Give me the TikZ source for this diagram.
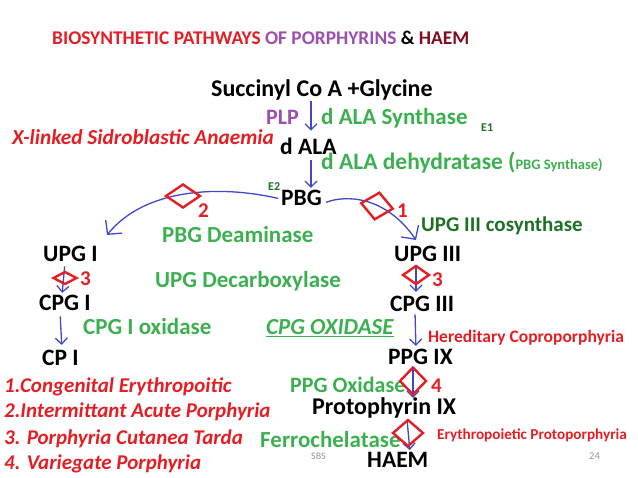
\documentclass[tikz,border=0pt]{standalone}
\usepackage{fontspec}
\setmainfont{Carlito}
\usetikzlibrary{arrows.meta,shapes.geometric}
\definecolor{cred}{RGB}{227,30,36}
\definecolor{cpurple}{RGB}{155,80,176}
\definecolor{cmaroon}{RGB}{128,12,30}
\definecolor{cgreen}{RGB}{60,176,80}
\definecolor{cdgreen}{RGB}{30,112,36}
\definecolor{cblue}{RGB}{64,72,204}
\definecolor{cgray}{RGB}{150,150,150}
\newcommand{\fsz}[1]{\fontsize{#1}{#1}\selectfont}
\begin{document}
\begin{tikzpicture}[x=1pt,y=-1pt,
  txt/.style={inner sep=0pt,anchor=base west,font=\bfseries\fsz{23.5}},
  blk/.style={txt,text=black},
  grn/.style={txt,text=cgreen},
  dgrn/.style={txt,text=cdgreen},
  rd/.style={txt,text=cred,font=\bfseries\fsz{21}},
  rdit/.style={txt,text=cred,font=\bfseries\itshape\fsz{21}},
  small/.style={inner sep=0pt,anchor=base west,font=\bfseries\fsz{12}},
  arr/.style={draw=cblue,line width=1.3pt,-{Straight Barb[length=6pt,width=12pt,line width=1.3pt]}},
  carr/.style={draw=cblue,line width=1.3pt,-{Straight Barb[length=10pt,width=21pt,line width=1.3pt]}},
  dia/.style={diamond,draw=cred,line width=2.4pt,inner sep=0pt}]
\useasboundingbox (0,0) rectangle (638,478);
% title
\node[txt,font=\bfseries\fsz{19.4}] (title) at (52,45)
  {\textcolor{cred}{BIOSYNTHETIC PATHWAYS} \textcolor{cpurple}{OF PORPHYRINS} \textcolor{black}{\&} \textcolor{cmaroon}{HAEM}};
% main column
\node[blk,font=\bfseries\fsz{24}] (succ) at (211,97) {Succinyl Co A +Glycine};
\node[txt,text=cpurple,font=\bfseries\fsz{22}] (plp) at (266,125) {PLP};
\node[grn,font=\bfseries\fsz{23}] (alas) at (321,125) {d ALA Synthase};
\node[small,text=cdgreen] (e1) at (481,132) {E1};
\node[rdit,font=\bfseries\itshape\fsz{21.3}] (xlink) at (12,145) {X-linked Sidroblastic Anaemia};
\node[blk] (dala) at (280,155) {d ALA};
\node[grn] (alad) at (321,170) {d ALA dehydratase (\fsz{14.5}PBG Synthase)};
\node[small,text=cdgreen] (e2) at (268,191) {E2};
\node[blk] (pbg) at (281,206) {PBG};
\node[rd] (n2) at (198,218) {2};
\node[grn,font=\bfseries\fsz{23}] (pbgd) at (162,243) {PBG Deaminase};
\node[rd] (n1) at (397,218) {1};
\node[dgrn,font=\bfseries\fsz{21}] (upgco) at (421,232) {UPG III cosynthase};
\node[blk] (upg1) at (43,262) {UPG I};
\node[blk] (upg3) at (394,262) {UPG III};
\node[grn,font=\bfseries\fsz{23}] (upgd) at (155,288) {UPG Decarboxylase};
\node[rd] (n3l) at (80,286) {3};
\node[rd] (n3r) at (432,287) {3};
\node[blk] (cpg1) at (39,311) {CPG I};
\node[blk] (cpg3) at (390,312) {CPG III};
\node[grn,font=\bfseries\fsz{23}] (cpg1ox) at (83,335) {CPG I oxidase};
\node[grn,font=\bfseries\itshape\fsz{23}] (cpgox) at (266,335) {\underline{CPG OXIDASE}};
\node[txt,text=cred,font=\bfseries\fsz{17.5}] (hcp) at (428,343) {Hereditary Coproporphyria};
\node[blk] (cp1) at (42,366) {CP I};
\node[blk] (ppg9) at (388,365) {PPG IX};
\node[grn,font=\bfseries\fsz{22}] (ppgox) at (290,393) {PPG Oxidase};
\node[rd] (n4) at (431,393) {4};
\node[blk,font=\bfseries\fsz{24}] (proto) at (312,415) {Protophyrin IX};
\node[txt,text=cred,font=\bfseries\fsz{15.2}] (epp) at (437,440) {Erythropoietic Protoporphyria};
\node[grn,font=\bfseries\fsz{23}] (ferro) at (260,448) {Ferrochelatase};
\node[blk] (haem) at (367,468) {HAEM};
\node[inner sep=0pt,anchor=base west,text=cgray,font=\fsz{10}] (sbs) at (311,460) {SBS};
\node[inner sep=0pt,anchor=base west,text=cgray,font=\fsz{10.5}] (pg) at (589,460) {24};
% disease list
\node[rdit] (l1) at (4,393) {1.Congenital Erythropoitic};
\node[rdit] (l2) at (4,418) {2.Intermittant Acute Porphyria};
\node[rdit] (l3) at (4,445) {3. Porphyria Cutanea Tarda};
\node[rdit] (l4) at (4,470) {4. Variegate Porphyria};
% connectors
\coordinate (upg1end) at (107,235);
\coordinate (upg3end) at (416,240);
\draw[arr,shorten >=7.6pt] (succ.south -| 311,0) -- (dala.north -| 311,0);
\draw[arr,shorten <=5pt,shorten >=2.5pt] (dala.south -| 311,0) -- (pbg.north -| 311,0);
\draw[carr] ([xshift=-3pt]pbg.west) .. controls (220,185) and (145,188) .. (upg1end);
\draw[carr] ([xshift=4pt,yshift=4pt]pbg.south east) .. controls (345,195) and (385,195) .. (upg3end);
\draw[arr,shorten <=4pt,shorten >=2.5pt] (upg1.south -| 65,0) -- (cpg1.north -| 62,0);
\draw[arr,shorten <=3pt,shorten >=4.5pt] (upg3.south -| 416,0) -- (cpg3.north -| 416,0);
\draw[arr,shorten <=5pt,shorten >=5.5pt] (cpg1.south -| 60,0) -- (cp1.north -| 62,0);
\draw[arr,shorten <=2pt,shorten >=3.5pt] (cpg3.south -| 415,0) -- (ppg9.north -| 416,0);
\draw[arr,shorten <=3pt,shorten >=0pt] (ppg9.south -| 413,0) -- (proto.north -| 413,0);
\draw[arr,shorten <=1.3pt,shorten >=2.5pt] (proto.south -| 407,0) -- (haem.north -| 410,0);
% diamonds
\node[dia,minimum width=35pt,minimum height=24pt] (d2) at (183,196) {};
\node[dia,minimum width=33pt,minimum height=28pt,rotate=-10] (d1) at (377,206) {};
\node[dia,minimum width=24pt,minimum height=13pt] (d3l) at (65,278) {};
\node[dia,minimum width=27pt,minimum height=19pt] (d3r) at (416,275) {};
\node[dia,minimum width=27pt,minimum height=28pt] (d4) at (413,381) {};
\node[dia,minimum width=31pt,minimum height=27pt] (d5) at (408,433) {};
\end{tikzpicture}
\end{document}
